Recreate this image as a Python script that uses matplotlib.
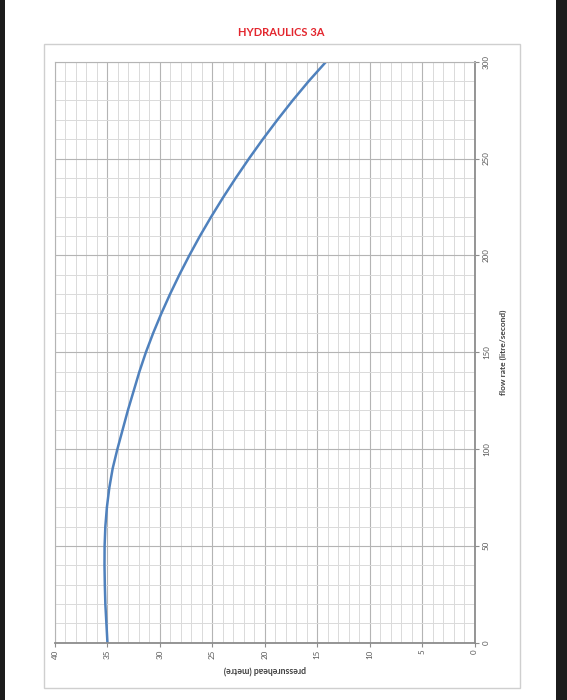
import numpy as np
import matplotlib.pyplot as plt
from matplotlib.patches import Rectangle

plt.rcParams['font.family'] = ['Lato', 'DejaVu Sans']

# pump curve: flow rate (litre/second) vs pressure head (metre)
flow = [0, 10, 20, 30, 40, 50, 60, 70, 80, 90, 100, 110, 120, 130, 140, 150,
        160, 170, 180, 190, 200, 210, 220, 230, 240, 250, 260, 270, 280, 290, 300]
head = [35.0, 35.1, 35.2, 35.25, 35.28, 35.27, 35.2, 35.05, 34.82, 34.5, 34.05,
        33.55, 33.05, 32.5, 31.95, 31.33, 30.63, 29.86, 29.03, 28.14, 27.19,
        26.18, 25.1, 23.96, 22.76, 21.5, 20.18, 18.79, 17.34, 15.8, 14.15]

head_ticks = list(range(0, 41, 5))
flow_ticks = list(range(0, 301, 50))

W, H = 567, 700
fig = plt.figure(figsize=(W / 100, H / 100), dpi=100)

def fx(px):
    return px / W

def fy(py):
    return 1 - py / H

# dark strips at the screenshot edges
fig.patches.append(Rectangle((0, 0), fx(5), 1, transform=fig.transFigure,
                             facecolor='#1c1c1c', edgecolor='none'))
fig.patches.append(Rectangle((fx(556), 0), 1 - fx(556), 1, transform=fig.transFigure,
                             facecolor='#1c1c1c', edgecolor='none'))
# chart frame
fig.patches.append(Rectangle((fx(44), fy(688)), fx(520) - fx(44), fy(44) - fy(688),
                             transform=fig.transFigure, facecolor='none',
                             edgecolor='#cfcfcf', lw=1.0))

ax = fig.add_axes([fx(55), fy(642.7), fx(474.5) - fx(55), fy(61.7) - fy(642.7)])

ax.plot(head, flow, color='#4f81bd', lw=1.8, solid_capstyle='round')

ax.set_xlim(40, 0)
ax.set_ylim(0, 300)

ax.set_xticks(head_ticks)
ax.set_xticks(range(0, 41), minor=True)
ax.set_yticks(flow_ticks)
ax.set_yticks(range(0, 301, 10), minor=True)

ax.grid(which='major', color='#b4b4b4', lw=0.8)
ax.grid(which='minor', color='#dadada', lw=0.7)
ax.set_axisbelow(True)

ax.yaxis.tick_right()
ax.tick_params(axis='x', which='major', direction='out', length=3, width=0.8,
               color='#8c8c8c', labelsize=5.8, labelcolor='#595959',
               labelrotation=90, pad=2)
ax.tick_params(axis='y', which='major', direction='out', length=3, width=0.8,
               color='#8c8c8c', labelsize=5.8, labelcolor='#595959',
               labelrotation=90, pad=3)
ax.tick_params(which='minor', length=0)
for lab in ax.get_yticklabels():
    lab.set_va('center')

for side in ['top', 'left']:
    ax.spines[side].set_color('#b4b4b4')
    ax.spines[side].set_linewidth(0.8)
for side in ['bottom', 'right']:
    ax.spines[side].set_color('#8c8c8c')
    ax.spines[side].set_linewidth(1.3)

fig.text(fx(265), fy(670), 'pressurehead (metre)', rotation=180, ha='center',
         va='center', fontsize=6.3, fontweight='bold', color='#404040')
fig.text(fx(503), fy(352), 'flow rate (litre/second)', rotation=90, ha='center',
         va='center', fontsize=6.0, fontweight='bold', color='#404040')
fig.text(fx(281), fy(33), 'HYDRAULICS 3A', ha='center', va='center',
         fontsize=8, fontweight='bold', color='#e3262e')

fig.savefig('out.png', dpi=100)
